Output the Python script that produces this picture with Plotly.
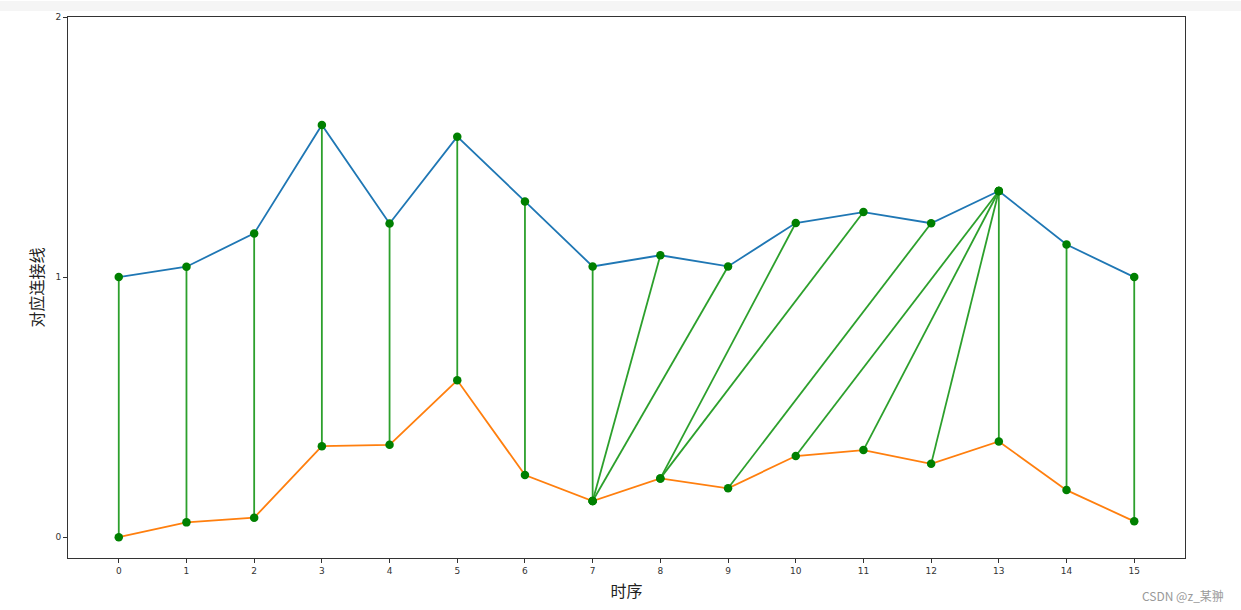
import plotly.graph_objects as go

# ---- data ----
time_steps = list(range(16))
series_a = [1.0, 1.04, 1.168, 1.585, 1.206, 1.54, 1.291, 1.041, 1.084, 1.041,
            1.208, 1.25, 1.207, 1.331, 1.125, 1.0]
series_b = [0.0, 0.057, 0.075, 0.35, 0.355, 0.603, 0.239, 0.139, 0.226, 0.188,
            0.312, 0.335, 0.282, 0.368, 0.181, 0.061]
# alignment path: index in series_a  <->  index in series_b
path_a = [0, 1, 2, 3, 4, 5, 6, 7, 8, 9, 10, 11, 12, 13, 13, 13, 13, 14, 15]
path_b = [0, 1, 2, 3, 4, 5, 6, 7, 7, 7, 8, 8, 9, 10, 11, 12, 13, 14, 15]
x_ticks = list(range(16))
y_ticks = [0, 1, 2]

fig = go.Figure()

fig.add_trace(go.Scatter(x=time_steps, y=series_a, mode="lines",
                         line=dict(color="#1f77b4", width=1.8), showlegend=False))
fig.add_trace(go.Scatter(x=time_steps, y=series_b, mode="lines",
                         line=dict(color="#ff7f0e", width=1.8), showlegend=False))

lx, ly = [], []
for i, j in zip(path_a, path_b):
    lx += [time_steps[i], time_steps[j], None]
    ly += [series_a[i], series_b[j], None]
fig.add_trace(go.Scatter(x=lx, y=ly, mode="lines",
                         line=dict(color="#2ca02c", width=1.8), showlegend=False))

mx, my = [], []
for i, j in zip(path_a, path_b):
    mx += [time_steps[i], time_steps[j]]
    my += [series_a[i], series_b[j]]
fig.add_trace(go.Scatter(x=mx, y=my, mode="markers",
                         marker=dict(color="#008000", size=8.5), showlegend=False))

axis_common = dict(showgrid=False, zeroline=False, showline=True, mirror=True,
                   linecolor="#333333", linewidth=1, ticks="outside", ticklen=4,
                   tickcolor="#333333", tickfont=dict(family="DejaVu Sans", size=9, color="#333333"))

fig.update_xaxes(range=[-0.75, 15.75], tickmode="array", tickvals=x_ticks,
                 ticktext=[str(t) for t in x_ticks],
                 title=dict(text="时序", font=dict(family="Noto Sans CJK SC", size=16, color="#222222"),
                            standoff=11),
                 **axis_common)
fig.update_yaxes(range=[-0.08, 2.0], tickmode="array", tickvals=y_ticks,
                 ticktext=[str(t) for t in y_ticks],
                 title=dict(text="对应连接线", font=dict(family="Noto Sans CJK SC", size=16, color="#222222"),
                            standoff=7),
                 **axis_common)

fig.add_shape(type="rect", xref="paper", yref="paper", x0=-1, x1=2, y0=1.0 + 6 / 543,
              y1=1 + 16 / 543, fillcolor="#f5f5f5", line=dict(width=0), layer="below")

fig.add_annotation(text="CSDN @z_某翀", xref="paper", yref="paper", x=1.037, y=-0.05,
                   xanchor="right", yanchor="top", showarrow=False,
                   font=dict(family="Noto Sans CJK SC", size=12, color="#999999"))

fig.update_layout(width=1241, height=610, plot_bgcolor="white", paper_bgcolor="white",
                  margin=dict(l=68, r=56, t=16, b=51))

fig.write_html("out.html", config={"displayModeBar": False},
               post_script="document.body.style.margin='0px';")
